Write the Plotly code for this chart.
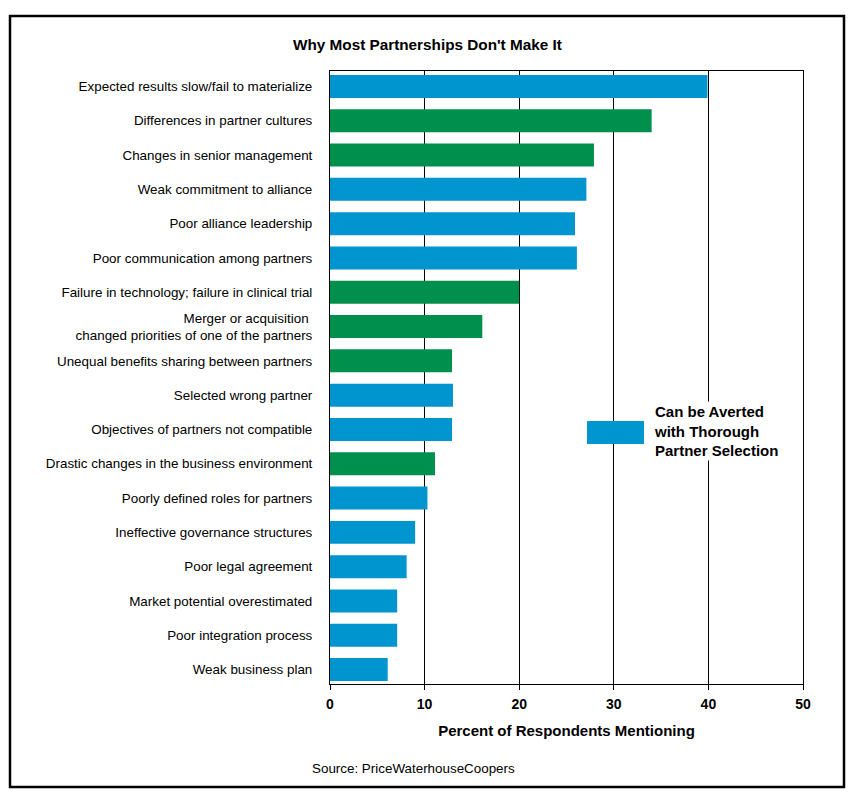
import plotly.graph_objects as go

categories = [
    "Expected results slow/fail to materialize",
    "Differences in partner cultures",
    "Changes in senior management",
    "Weak commitment to alliance",
    "Poor alliance leadership",
    "Poor communication among partners",
    "Failure in technology; failure in clinical trial",
    "Merger or acquisition <br>changed priorities of one of the partners",
    "Unequal benefits sharing between partners",
    "Selected wrong partner",
    "Objectives of partners not compatible",
    "Drastic changes in the business environment",
    "Poorly defined roles for partners",
    "Ineffective governance structures",
    "Poor legal agreement",
    "Market potential overestimated",
    "Poor integration process",
    "Weak business plan",
]
values = [39.9, 34.0, 27.9, 27.1, 25.9, 26.1, 20.0, 16.1, 12.9, 13.0, 12.9, 11.1, 10.3, 9.0, 8.1, 7.1, 7.1, 6.1]
averted = [True, False, False, True, True, True, False, False, False, True, True, False, True, True, True, True, True, True]

BLUE = "#0095CF"
GREEN = "#008F4C"
colors = [BLUE if a else GREEN for a in averted]

FONT = "Liberation Sans, Arial, sans-serif"

fig = go.Figure()
fig.add_trace(go.Bar(
    y=categories, x=values, orientation="h",
    marker=dict(color=colors, line=dict(width=0)),
    width=0.67, showlegend=False, hoverinfo="x+y",
))

L, R, T, B = 330, 52, 71, 115
W, H = 855, 799
pw, ph = W - L - R, H - T - B

def px(x):
    return (x - L) / pw

def py(y):
    return (H - B - y) / ph

n = len(categories)
fig.update_layout(
    width=W, height=H,
    margin=dict(l=L, r=R, t=T, b=B, pad=0),
    paper_bgcolor="white", plot_bgcolor="white",
    font=dict(family=FONT, color="black", size=13),
    xaxis=dict(
        range=[0, 50], tickvals=[0, 10, 20, 30, 40, 50],
        showgrid=True, gridcolor="black", gridwidth=1,
        showline=True, linecolor="black", linewidth=1, mirror=True,
        ticks="outside", ticklen=5, tickcolor="black", ticklabelstandoff=2,
        tickfont=dict(family=FONT, size=14, color="black", weight="bold"),
        zeroline=False,
        title=dict(text="<b>Percent of Respondents Mentioning</b>",
                   font=dict(family=FONT, size=15, color="black"), standoff=14),
    ),
    yaxis=dict(
        range=[n - 1 + 0.42, -0.45], categoryorder="array", categoryarray=categories,
        showline=True, linecolor="black", linewidth=1, mirror=True,
        showgrid=False, ticks="", ticklabelstandoff=14,
        tickfont=dict(family=FONT, size=13.4, color="black"),
    ),
)

fig.add_annotation(text="<b>Why Most Partnerships Don't Make It</b>",
                   xref="paper", yref="paper", x=px(427), y=py(44),
                   xanchor="center", yanchor="middle", showarrow=False,
                   font=dict(family=FONT, size=15.3, color="black"))

fig.add_annotation(text="Source: PriceWaterhouseCoopers",
                   xref="paper", yref="paper", x=px(310), y=py(768),
                   xanchor="left", yanchor="middle", showarrow=False,
                   font=dict(family=FONT, size=13.4, color="black"))

# legend key
fig.add_shape(type="rect", xref="paper", yref="paper",
              x0=px(587), x1=px(644), y0=py(444), y1=py(421),
              fillcolor=BLUE, line=dict(width=0), layer="above")
fig.add_annotation(text="<b>Can be Averted<br>with Thorough<br>Partner Selection</b>",
                   xref="paper", yref="paper", x=px(652), y=py(431),
                   xanchor="left", yanchor="middle", align="left", showarrow=False,
                   bgcolor="white",
                   font=dict(family=FONT, size=15, color="black"))

# outer border
fig.add_shape(type="rect", xref="paper", yref="paper",
              x0=px(10), x1=px(844), y0=py(787), y1=py(16),
              line=dict(color="black", width=2.5), fillcolor="rgba(0,0,0,0)")

fig.write_html("out.html", config={"responsive": False, "displayModeBar": False},
               post_script="document.body.style.margin='0';document.body.style.padding='0';")
